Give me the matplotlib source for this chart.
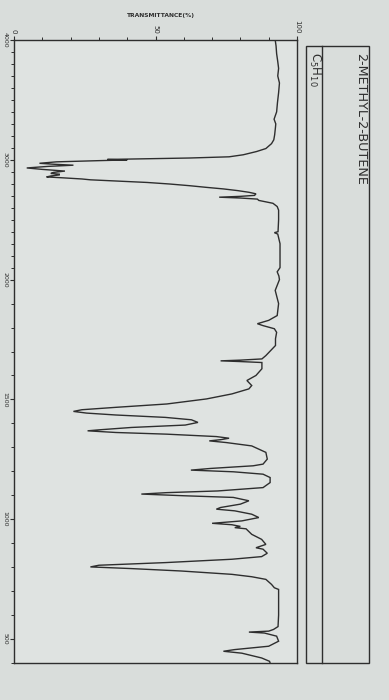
import numpy as np
import matplotlib
matplotlib.use("Agg")
import matplotlib.pyplot as plt
from matplotlib.patches import Rectangle
from matplotlib.lines import Line2D

# ---- data ----
wavenumber = [4000, 3950, 3886, 3820, 3763, 3700, 3641, 3560, 3478, 3400, 3339, 3300, 3273,
              3208, 3167, 3135, 3094, 3069, 3042, 3025, 3015, 3008, 3003, 2999, 2993, 2983,
              2971, 2963, 2955, 2945, 2932, 2920, 2906, 2895, 2886, 2880, 2874, 2865, 2857,
              2850, 2840, 2833, 2822, 2811, 2798, 2784, 2770, 2757, 2743, 2729, 2716, 2703,
              2695, 2688, 2681, 2672, 2661, 2637, 2610, 2580, 2500, 2400, 2392, 2380, 2300,
              2200, 2100, 2065, 2030, 2000, 1955, 1900, 1850, 1830, 1816, 1808, 1795, 1780,
              1753, 1725, 1683, 1669, 1664, 1661, 1658, 1654, 1628, 1600, 1579, 1558, 1544,
              1523, 1502, 1481, 1467, 1457, 1450, 1443, 1435, 1425, 1415, 1404, 1393, 1383,
              1373, 1369, 1362, 1355, 1345, 1338, 1332, 1327, 1320, 1306, 1279, 1251, 1230,
              1223, 1212, 1205, 1198, 1188, 1174, 1153, 1132, 1118, 1111, 1105, 1098, 1091,
              1077, 1063, 1049, 1042, 1035, 1021, 1007, 993, 983, 977, 970, 965, 960, 937,
              916, 895, 885, 881, 875, 858, 844, 833, 819, 808, 801, 794, 784, 770, 760,
              749, 728, 714, 707, 665, 600, 552, 540, 533, 529, 525, 512, 491, 470, 456,
              449, 441, 421, 407, 400]
transmittance = [92.3, 92.6, 92.8, 93.2, 93.5, 93.2, 93.8, 93.5, 93.1, 92.8, 91.9, 92.5, 92.4,
                 92.1, 91.8, 91.0, 89.0, 85.7, 81.0, 76.0, 62, 44, 33, 40, 30, 15,
                 9, 14, 21, 12, 4.5, 10, 18, 14, 13, 16, 16, 13, 11.5,
                 17, 24, 27, 37, 47, 55, 62, 68, 74, 79, 83, 85.5, 85,
                 80, 72.5, 80, 86, 86.5, 91.5, 93, 93.5, 93.5, 93.3, 92.0, 93.2, 94,
                 94, 94, 93.0, 93.6, 93.8, 92.3, 93.5, 93, 90, 86, 88, 92, 92.8,
                 92.4, 92.4, 89, 87.6, 80, 73, 80, 87.6, 87.6, 85.5, 82.3, 84, 83,
                 77, 68, 54, 36, 24, 21, 25.6, 36, 53.5, 62.7, 65, 60.5, 41.5,
                 30, 26, 36, 54, 71.5, 76, 73, 69, 75, 84, 89, 89.5, 88,
                 84.5, 69.5, 62.5, 77.5, 88, 90.5, 90.5, 88, 72, 54, 45, 60, 77.5,
                 83, 80, 73, 71.5, 78, 84, 86.5, 80.5, 70, 77, 80, 78, 82, 84,
                 87.5, 89, 86.5, 85.5, 88, 89.5, 87.5, 77, 53.5, 30, 27, 41.5, 59, 77, 84,
                 89, 91, 92, 93.5, 93.5, 93.5, 93.3, 91.7, 90, 83, 88.5, 92.8, 93.5, 90, 78,
                 74, 80.5, 87.5, 90.3, 90.5]

wn_major = [4000, 3000, 2000, 1500, 1000, 500]
wn_major_labels = ["4000", "3000", "2000", "1500", "1000", "500"]
t_major = [0, 50, 100]
t_major_labels = ["0", "50", "100"]
title_text = "2-METHYL-2-BUTENE"
formula_text = "C$_5$H$_{10}$"
axis_title = "TRANSMITTANCE(%)"

# ---- figure ----
W, H = 389, 700
bg = "#d9dddb"
ink = "#2e2e2e"
fig = plt.figure(figsize=(W / 100, H / 100), dpi=100, facecolor=bg)

def fx(px):
    return px / W

def fy(py):
    return 1 - py / H

ax = fig.add_axes([fx(14), fy(663), fx(297) - fx(14), fy(40) - fy(663)])
ax.set_facecolor("#dfe3e1")


def fwd(w):
    w = np.asarray(w, dtype=float)
    return np.where(w >= 2000, w, 2 * w - 2000)


def inv(v):
    v = np.asarray(v, dtype=float)
    return np.where(v >= 2000, v, (v + 2000) / 2)


ax.set_yscale("function", functions=(fwd, inv))
ax.set_ylim(400, 4000)
ax.set_xlim(0, 100)

ax.plot(transmittance, wavenumber, color=ink, lw=1.0, solid_joinstyle="miter")

# ticks
ax.xaxis.tick_top()
ax.set_xticks(t_major)
ax.set_xticklabels(t_major_labels, rotation=-90, fontsize=5, color=ink)
ax.set_xticks(np.arange(0, 101, 10), minor=True)
ax.set_yticks(wn_major)
ax.set_yticklabels(wn_major_labels, rotation=-90, fontsize=4.5, color=ink, va="center")
ax.set_yticks(np.arange(400, 4001, 100), minor=True)
ax.yaxis.set_minor_formatter(plt.NullFormatter())
ax.xaxis.set_minor_formatter(plt.NullFormatter())
ax.tick_params(which="major", direction="out", length=3, width=0.8, color=ink, pad=1.5)
ax.tick_params(which="minor", direction="out", length=2, width=0.7, color=ink)
for s in ax.spines.values():
    s.set_color(ink)
    s.set_linewidth(1.0)

fig.text(fx(161), fy(15), axis_title, ha="center", va="center", fontsize=4.3,
         fontweight="bold", color=ink)

# title box
box_l, box_r, box_in = 306, 369, 322
box_t, box_b = 46, 663
fig.patches.append(Rectangle((fx(box_l), fy(box_b)), fx(box_r) - fx(box_l), fy(box_t) - fy(box_b),
                             transform=fig.transFigure, fill=False, edgecolor=ink, lw=1.0))
fig.lines.append(Line2D([fx(box_in), fx(box_in)], [fy(box_b), fy(box_t)],
                        transform=fig.transFigure, color=ink, lw=1.0))
fig.text(fx(361), fy(53), title_text, rotation=-90, ha="center", va="top",
         fontsize=9.2, color=ink)
fig.text(fx(315), fy(52), formula_text, rotation=-90, ha="center", va="top",
         fontsize=8.5, color=ink)

fig.savefig("out.png", dpi=100, facecolor=bg)
